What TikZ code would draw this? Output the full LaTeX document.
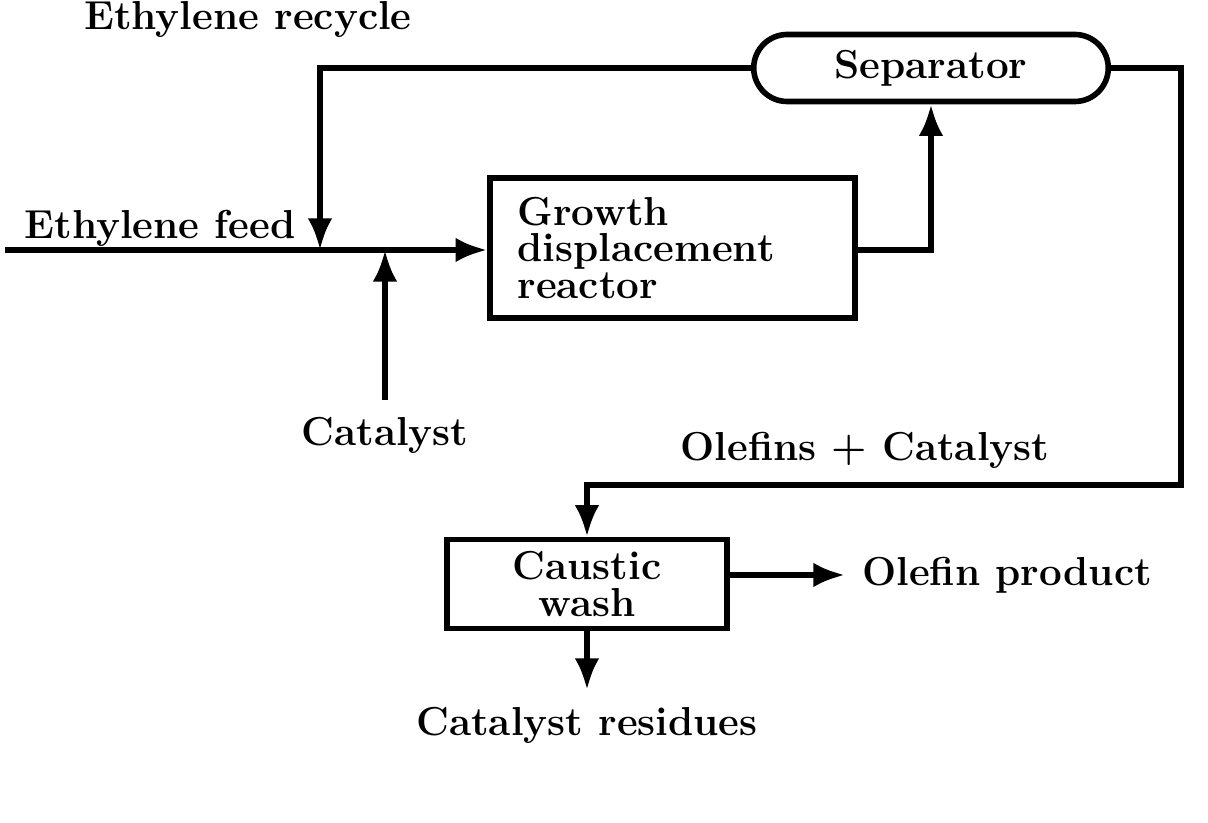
\documentclass[tikz,border=0pt]{standalone}
\usetikzlibrary{positioning,shapes.misc,arrows.meta}
\begin{document}
\begin{tikzpicture}[x=1cm,y=1cm, font=\bfseries\fontsize{11.5}{12.5}\selectfont,
    flow/.style={line width=1.6pt},
    arr/.style={flow,-{Latex[length=9pt,width=7pt]}},
    unit/.style={draw,line width=1.6pt,align=left}]
    \useasboundingbox (0,0) rectangle (12.08,8.23);
    % Units
    \node[draw,line width=1.6pt,rounded rectangle,minimum width=3.78cm,minimum height=0.67cm] (sep) at (9.31,7.55) {Separator};
    \node[unit,minimum width=3.65cm,minimum height=1.4cm,text width=3.1cm] (react) at (6.725,5.75) {Growth\\[-2pt]displacement\\[-2pt]reactor};
    \node[unit,minimum width=2.8cm,minimum height=0.88cm,align=center] (wash) at (5.87,2.39) {Caustic\\[-2pt]wash};
    % Coordinates
    \coordinate (feed) at (0.05,5.73);
    \coordinate (mix) at (3.2,5.73);
    \coordinate (cat) at (3.85,4.23);
    \coordinate (prod) at (8.45,2.48);
    \coordinate (res) at (5.87,1.33);
    % Streams
    \draw[flow] (feed) -- (mix);
    \draw[arr] (mix) -- (react.west |- mix);
    \draw[arr] (sep.west) -| (mix);
    \draw[arr] (cat) -- (cat |- mix);
    \draw[arr] (react.east |- mix) -| (sep.south);
    \draw[arr] (sep.east) -- ++(0.7,0) |- (5.87,3.38) -- (wash.north);
    \draw[arr] (wash.east |- prod) -- (prod);
    \draw[arr] (wash.south) -- (res);
    % Labels
    \node (lfeed) at (1.6,5.95) {Ethylene feed};
    \node (lrec) at (2.48,8.03) {Ethylene recycle};
    \node[below=0.05cm of cat] (lcat) {Catalyst};
    \node (lolef) at (8.65,3.73) {Olefins + Catalyst};
    \node[right=0.05cm of prod] (lprod) {Olefin product};
    \node[below=0.05cm of res] (lres) {Catalyst residues};
\end{tikzpicture}
\end{document}
